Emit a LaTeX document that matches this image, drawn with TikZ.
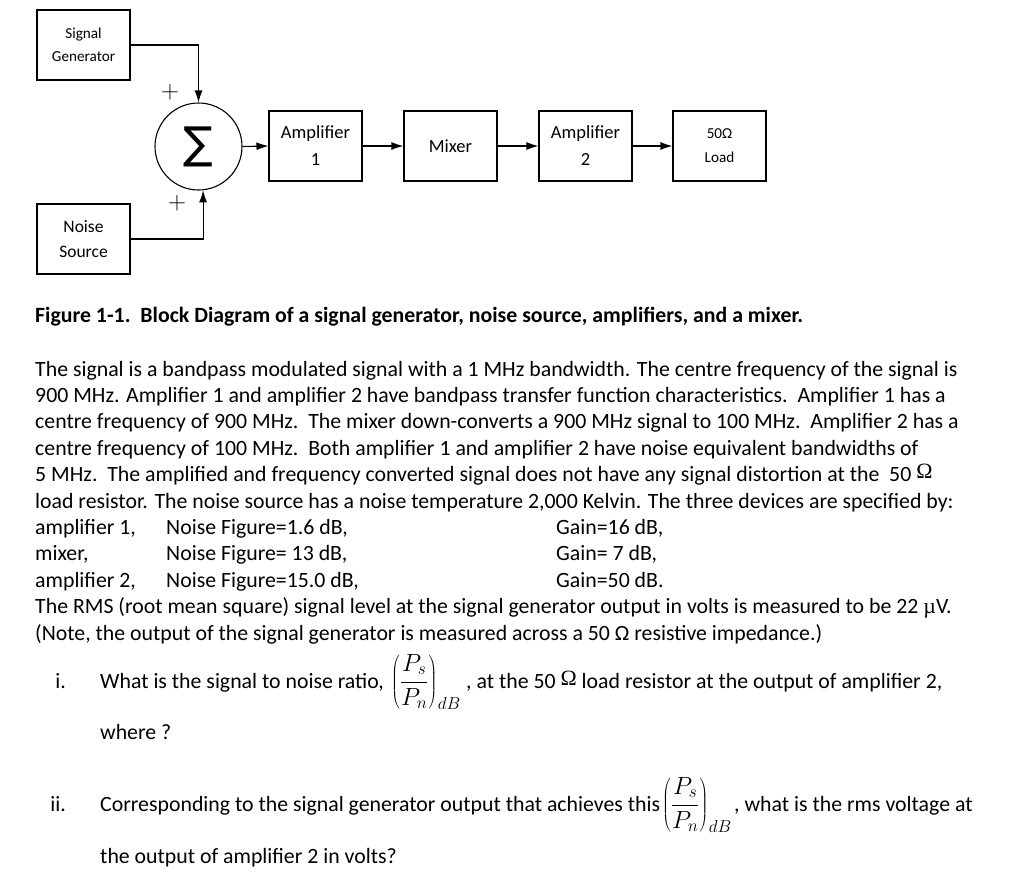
\documentclass[tikz,border=0pt]{standalone}
\usepackage{fontspec}
\setmainfont{Carlito}
\newfontfamily\serif{Liberation Serif}
\newfontfamily\djv{DejaVu Sans}
\usetikzlibrary{arrows.meta}
\begin{document}
\begin{tikzpicture}[x=1pt,y=-1pt,
  blk/.style={draw,line width=1.1pt,minimum width=93pt,minimum height=70pt,inner sep=0pt,align=center},
  conn/.style={line width=1.1pt,-{Latex[length=12pt,width=8pt]}},
  body/.style={anchor=base west,inner sep=0pt,font=\fontsize{21.8}{21.8}\selectfont},
  num/.style={anchor=base east,inner sep=0pt,font=\fontsize{21.8}{21.8}\selectfont},
  frm/.style={anchor=base west,inner sep=0pt,font=\fontsize{25}{25}\selectfont},
  sub/.style={anchor=base west,inner sep=0pt,font=\fontsize{18}{18}\selectfont},
  ]
\useasboundingbox[fill=white] (0,0) rectangle (1024,878);
% diagram
\node[blk,font=\fontsize{15.2}{23}\selectfont] (sg) at (83.5,45) {Signal\\Generator};
\node[blk,font=\fontsize{17.5}{25}\selectfont] (ns) at (83.5,239) {Noise\\Source};
\node[draw,circle,line width=1.1pt,minimum size=87pt,inner sep=0pt] (sum) at (198.5,146.5) {};
\node[inner sep=0pt,font=\djv\fontsize{44}{44}\selectfont] (sig) at (sum.center) {∑};
\node[inner sep=0pt] (p1) at (170,92) {\fontsize{27}{27}\selectfont$+$};
\node[inner sep=0pt] (p2) at (177,203) {\fontsize{27}{27}\selectfont$+$};
\node[blk,font=\fontsize{18.5}{27}\selectfont] (a1) at (315.5,146) {Amplifier\\1};
\node[blk,font=\fontsize{18.5}{18.5}\selectfont] (mx) at (450.5,146) {Mixer};
\node[blk,font=\fontsize{18.5}{27}\selectfont] (a2) at (585.5,146) {Amplifier\\2};
\node[blk,font=\fontsize{15.2}{24}\selectfont] (ld) at (719.5,146) {50Ω\\Load};
\draw[conn] (sg.east) -| (sum.north);
\draw[conn] (ns.east) -| (sum.-84);
\draw[conn] (sum.east) -- (a1.west);
\draw[conn] (a1) -- (mx);
\draw[conn] (mx) -- (a2);
\draw[conn] (a2) -- (ld);
% caption
\node[body,font=\bfseries\fontsize{21.8}{21.8}\selectfont] (cap) at (35,322) {Figure 1-1.\ \ Block Diagram of a signal generator, noise source, amplifiers, and a mixer.};
% paragraph
\node[body] (l0) at (35,376) {The signal is a bandpass modulated signal with a 1 MHz bandwidth. The centre frequency of the signal is};
\node[body] (l1) at (35,402.4) {900 MHz. Amplifier 1 and amplifier 2 have bandpass transfer function characteristics.\ \ Amplifier 1 has a};
\node[body] (l2) at (35,428.8) {centre frequency of 900 MHz.\ \ The mixer down-converts a 900 MHz signal to 100 MHz.\ \ Amplifier 2 has a};
\node[body] (l3) at (35,455.2) {centre frequency of 100 MHz.\ \ Both amplifier 1 and amplifier 2 have noise equivalent bandwidths of};
\node[body] (l4) at (35,481.6) {5 MHz.\ \ The amplified and frequency converted signal does not have any signal distortion at the\ \ 50 \raisebox{3pt}{\serif Ω}};
\node[body] (l5) at (35,508) {load resistor. The noise source has a noise temperature 2,000 Kelvin. The three devices are specified by:};
\node[body] (l6a) at (35,534.4) {amplifier 1,};
\node[body] (l6b) at (166,534.4) {Noise Figure=1.6 dB,};
\node[body] (l6c) at (556,534.4) {Gain=16 dB,};
\node[body] (l7a) at (35,560.8) {mixer,};
\node[body] (l7b) at (166,560.8) {Noise Figure= 13 dB,};
\node[body] (l7c) at (556,560.8) {Gain= 7 dB,};
\node[body] (l8a) at (35,587.2) {amplifier 2,};
\node[body] (l8b) at (166,587.2) {Noise Figure=15.0 dB,};
\node[body] (l8c) at (556,587.2) {Gain=50 dB.};
\node[body] (l9) at (35,613.6) {The RMS (root mean square) signal level at the signal generator output in volts is measured to be 22 {\serif µ}V.};
\node[body] (l10) at (35,640) {(Note, the output of the signal generator is measured across a 50 Ω resistive impedance.)};
% question i
\node[num] (qi) at (66,688) {i.};
\node[body] (qi1) at (100,688) {What is the signal to noise ratio,};
\node[frm] (f1) at (391,688) {$\displaystyle\left(\frac{P_{s}}{P_{n}}\right)$};
\node[sub] (f1s) at (f1.south east) {$dB$};
\node[body] (qi2) at (466,688) {, at the 50 \raisebox{3pt}{\serif Ω} load resistor at the output of amplifier 2,};
\node[body] (qi3) at (100,739) {where ?};
% question ii
\node[num] (qii) at (66,811) {ii.};
\node[body] (qii1) at (100,811) {Corresponding to the signal generator output that achieves this};
\node[frm] (f2) at (662,811) {$\displaystyle\left(\frac{P_{s}}{P_{n}}\right)$};
\node[sub] (f2s) at (f2.south east) {$dB$};
\node[body] (qii2) at (734,811) {, what is the rms voltage at};
\node[body] (qii3) at (100,863) {the output of amplifier 2 in volts?};
\end{tikzpicture}
\end{document}
